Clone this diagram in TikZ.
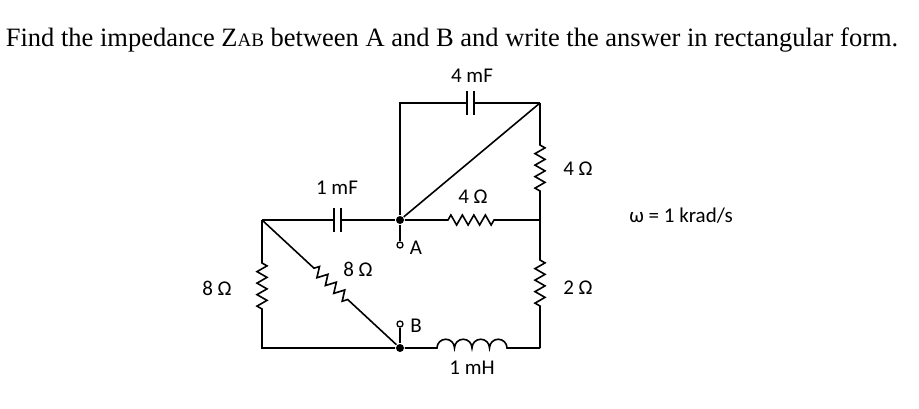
\documentclass[tikz,border=0pt]{standalone}
\usepackage{fontspec}
\setmainfont{Liberation Serif}
\newfontfamily\carlitofont{Carlito}
\usetikzlibrary{decorations.pathmorphing}
\begin{document}
\begin{tikzpicture}[x=1pt,y=-1pt,line width=1.6pt,
  res/.style={decorate,decoration={zigzag,segment length=11.5pt,amplitude=5pt}},
  lbl/.style={font=\carlitofont\fontsize{21}{24}\selectfont,inner sep=0pt},
  dot/.style={circle,fill,inner sep=0pt,minimum size=8pt},
  term/.style={circle,draw,fill=white,inner sep=0pt,minimum size=6pt,line width=1.3pt}]
\useasboundingbox (0,0) rectangle (919,408);
\node[font=\fontsize{26.5}{30}\selectfont,anchor=west,inner sep=0pt] (title) at (5,40) {Find the impedance Z{\fontsize{19}{22}\selectfont AB} between A and B and write the answer in rectangular form.};
\coordinate (TL) at (400,103); \coordinate (TR) at (540,103);
\coordinate (ML) at (262,220); \coordinate (MR) at (540,220);
\coordinate (BL) at (262,348); \coordinate (BR) at (540,348);
\node[dot] (J) at (400,220) {};
\node[dot] (K) at (400,348) {};
\node[term] (A) at (400,245) {};
\node[term] (B) at (400,324) {};
% top capacitor
\draw (J) -- (TL) -- (467,103) (467,91) -- (467,115) (474,91) -- (474,115) (474,103) -- (TR);
\draw (J) -- (TR);
% right side
\draw (TR) -- (540,145) decorate[res]{-- (540,192)} -- (MR) -- (540,260) decorate[res]{-- (540,307)} -- (BR);
% middle resistor
\draw (J) -- (448,220) decorate[res]{-- (495,220)} -- (MR);
% 1mF capacitor
\draw (ML) -- (334,220) (334,208) -- (334,232) (341,208) -- (341,232) (341,220) -- (J);
% left resistor
\draw (ML) -- (262,263) decorate[res]{-- (262,310)} -- (BL) -- (K);
% diagonal 8 ohm
\draw (ML) -- (314,268.2) decorate[res]{-- (348,299.8)} -- (K);
% inductor
\draw (K) -- (437,348) arc(180:360:8.75) arc(180:360:8.75) arc(180:360:8.75) arc(180:360:8.75) -- (BR);
\draw (J) -- (A) (B) -- (K);
\node[lbl] (l1) at (472,76) {4 mF};
\node[lbl] (l2) at (337,188) {1 mF};
\node[lbl] (l3) at (473,197) {4 Ω};
\node[lbl] (l4) at (578,169) {4 Ω};
\node[lbl] (l5) at (217,288) {8 Ω};
\node[lbl] (l6) at (358,269) {8 Ω};
\node[lbl] (l7) at (578,288) {2 Ω};
\node[lbl] (l8) at (472,368) {1 mH};
\node[lbl] (lA) at (416,248) {A};
\node[lbl] (lB) at (416,326) {B};
\node[lbl] (w) at (681,216) {ω = 1 krad/s};
\end{tikzpicture}
\end{document}
